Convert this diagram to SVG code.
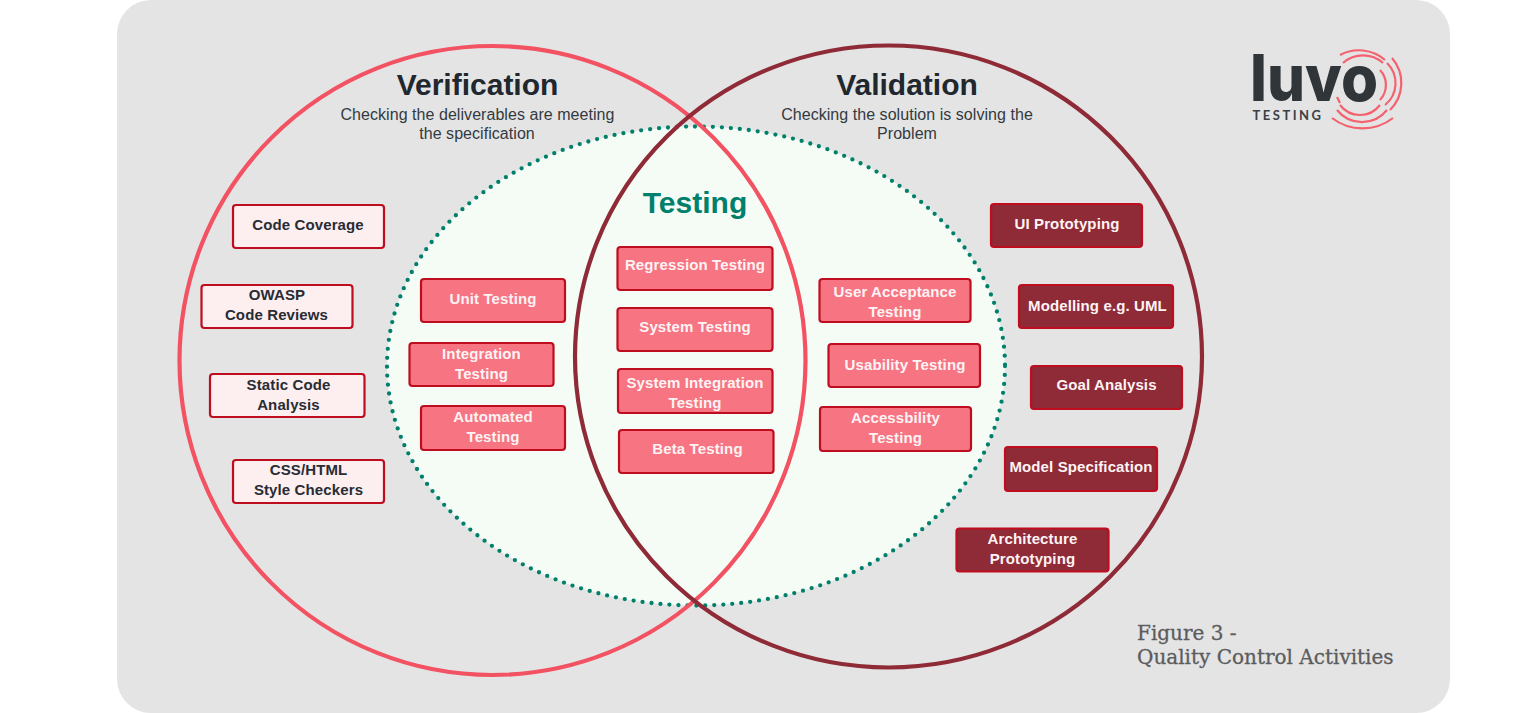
<svg xmlns="http://www.w3.org/2000/svg" width="1536" height="713" viewBox="0 0 1536 713">
<style>
text{font-family:"Liberation Sans",Arial,sans-serif;text-anchor:middle}
.b rect{stroke:#bf0d20;stroke-width:2.2}
.b text{font-size:15px;font-weight:700;letter-spacing:.12px}
.l rect{fill:#fdeef0}.l text{fill:#282c33}
.m rect{fill:#f77482}.m text{fill:#fdf3f4}
.d rect{fill:#8f2a37}.d text{fill:#fdf3f4}
.h{font-size:30px;font-weight:700;fill:#20272e}
.s{font-size:16px;fill:#333a40;letter-spacing:.05px}
.f{font-family:"DejaVu Serif",serif;font-size:20px;fill:#5c5c5c;stroke:#5c5c5c;stroke-width:.3;text-anchor:start}
.r{fill:none;stroke:#f4616f;stroke-width:2.2}
</style>
<rect width="1536" height="713" fill="#fff"/>
<rect x="117" y="0" width="1333" height="713" rx="34" fill="#e4e4e5"/>
<ellipse id="testing-area" cx="696" cy="366" rx="309" ry="239.500" fill="#f5fcf6" stroke="#00806a" stroke-width="4.300" stroke-linecap="round" stroke-dasharray="0 9"/>
<g id="verification-circle"><ellipse cx="492.500" cy="360.500" rx="313" ry="314.500" fill="none" stroke="#f25262" stroke-width="4.200"/></g>
<g id="validation-circle"><ellipse cx="888.500" cy="356.500" rx="313.500" ry="311" fill="none" stroke="#8f2a37" stroke-width="4.200"/></g>
<g id="titles">
<text class="h" x="477.500" y="95">Verification</text>
<text class="s" x="477.500" y="120">Checking the deliverables are meeting</text>
<text class="s" x="477" y="139">the specification</text>
<text class="h" x="907" y="95">Validation</text>
<text class="s" x="907" y="120">Checking the solution is solving the</text>
<text class="s" x="907" y="139">Problem</text>
<text x="695" y="213" font-size="30" font-weight="700" fill="#00806a">Testing</text>
</g>
<g id="code-coverage" class="b l"><rect x="233" y="205" width="151" height="43" rx="3"/><text x="308" y="230">Code Coverage</text></g>
<g id="owasp" class="b l"><rect x="201.500" y="285" width="151" height="43" rx="3"/><text x="277" y="300">OWASP</text><text x="276.500" y="320">Code Reviews</text></g>
<g id="static-code" class="b l"><rect x="210" y="374" width="154.500" height="43" rx="3"/><text x="288.500" y="390">Static Code</text><text x="288.500" y="410">Analysis</text></g>
<g id="css-html" class="b l"><rect x="233" y="460" width="151" height="43" rx="3"/><text x="308.500" y="475">CSS/HTML</text><text x="308.500" y="495">Style Checkers</text></g>
<g id="unit-testing" class="b m"><rect x="421" y="279" width="144" height="43" rx="3"/><text x="493" y="304">Unit Testing</text></g>
<g id="integration-testing" class="b m"><rect x="409.500" y="343" width="144" height="43" rx="3"/><text x="481.500" y="359">Integration</text><text x="481.500" y="379">Testing</text></g>
<g id="automated-testing" class="b m"><rect x="421" y="406" width="144" height="44" rx="3"/><text x="493" y="422">Automated</text><text x="493" y="442">Testing</text></g>
<g id="regression-testing" class="b m"><rect x="617.500" y="247" width="155" height="43" rx="3"/><text x="695" y="270">Regression Testing</text></g>
<g id="system-testing" class="b m"><rect x="617.500" y="308" width="155" height="43" rx="3"/><text x="695" y="332">System Testing</text></g>
<g id="system-integration-testing" class="b m"><rect x="618" y="369" width="154.500" height="44" rx="3"/><text x="695" y="388">System Integration</text><text x="695" y="408">Testing</text></g>
<g id="beta-testing" class="b m"><rect x="619" y="430" width="154.500" height="43" rx="3"/><text x="697.500" y="454">Beta Testing</text></g>
<g id="user-acceptance-testing" class="b m"><rect x="819.500" y="279" width="151" height="43" rx="3"/><text x="895" y="297">User Acceptance</text><text x="895" y="317">Testing</text></g>
<g id="usability-testing" class="b m"><rect x="828.500" y="344" width="151.500" height="43" rx="3"/><text x="905" y="370">Usability Testing</text></g>
<g id="accessbility-testing" class="b m"><rect x="820" y="407" width="151" height="44" rx="3"/><text x="895.500" y="423">Accessbility</text><text x="895.500" y="443">Testing</text></g>
<g id="ui-prototyping" class="b d"><rect x="991" y="204" width="151" height="43" rx="3"/><text x="1067" y="229">UI Prototyping</text></g>
<g id="modelling" class="b d"><rect x="1019" y="285" width="154" height="43" rx="3"/><text x="1097.500" y="311">Modelling e.g. UML</text></g>
<g id="goal-analysis" class="b d"><rect x="1031" y="366" width="151" height="43" rx="3"/><text x="1106.500" y="390">Goal Analysis</text></g>
<g id="model-specification" class="b d"><rect x="1005" y="447" width="152" height="44" rx="3"/><text x="1081" y="472">Model Specification</text></g>
<g id="architecture-prototyping" class="b d"><rect x="956.500" y="528.500" width="152" height="43" rx="3"/><text x="1032.500" y="544">Architecture</text><text x="1032.500" y="564">Prototyping</text></g>
<g id="logo">
<text x="1250" y="101" font-size="64" font-weight="800" fill="#30353a" style="font-family:Inter,sans-serif;text-anchor:start" textLength="128" lengthAdjust="spacingAndGlyphs">luvo</text>
<text x="1288" y="120" font-size="13" font-weight="700" fill="#3b4045" letter-spacing="2.500" style="font-family:Lato,sans-serif">TESTING</text>
<path class="r" d="M1340 55A40 40 0 0 1 1385 60M1392 58A38 38 0 0 1 1390 110M1332 118A50 50 0 0 0 1393 118M1343 63A30 30 0 0 1 1383 63M1387 63A28 28 0 0 1 1385 105M1337 110A32 32 0 0 0 1387 110M1380 70A22 22 0 0 1 1380 100M1340 105A25 25 0 0 0 1380 105M1337 97L1340 103"/>
</g>
<g id="caption"><text class="f" x="1137" y="639.500">Figure 3 -</text><text class="f" x="1137" y="663.500">Quality Control Activities</text></g>
</svg>
